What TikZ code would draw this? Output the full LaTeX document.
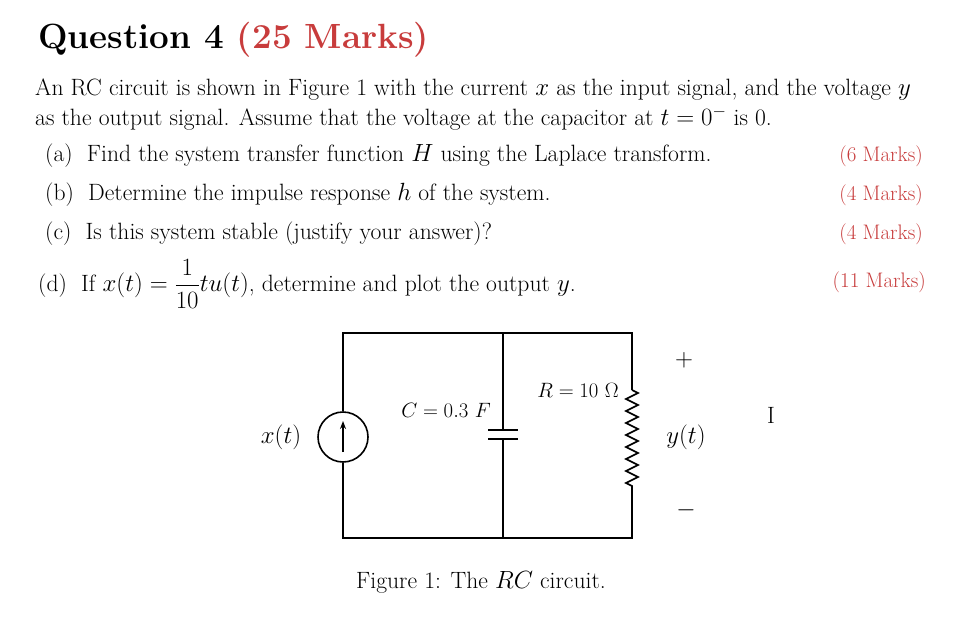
\documentclass[tikz,border=0pt]{standalone}
\usepackage{amsmath}
\usetikzlibrary{decorations.pathmorphing,arrows.meta}
\definecolor{mred}{RGB}{200,60,60}
\tikzset{
  body/.style={anchor=west,inner sep=0pt,font=\fontsize{23.6}{28}\selectfont},
  marks/.style={anchor=east,inner sep=0pt,text=mred,font=\fontsize{21}{24}\selectfont},
  wire/.style={line width=1.6pt},
  lab/.style={inner sep=0pt,font=\fontsize{23.6}{28}\selectfont},
  slab/.style={inner sep=0pt,font=\fontsize{21}{24}\selectfont}
}
\begin{document}
\begin{tikzpicture}[x=1pt,y=-1pt]
\useasboundingbox[fill=white] (0,0) rectangle (963,631);
\node[anchor=west,inner sep=0pt,font=\fontsize{35}{40}\selectfont\bfseries] (q) at (38,40) {Question 4 \textcolor{mred}{(25 Marks)}};
\node[body] (p1) at (35,90) {An RC circuit is shown in Figure 1 with the current $x$ as the input signal, and the voltage $y$};
\node[body] (p2) at (35,118) {as the output signal. Assume that the voltage at the capacitor at $t=0^{-}$ is 0.};
\node[body] (a) at (45,156) {(a)\ \ Find the system transfer function $H$ using the Laplace transform.};
\node[marks] (ma) at (923,156) {(6 Marks)};
\node[body] (b) at (45,195) {(b)\ \ Determine the impulse response $h$ of the system.};
\node[marks] (mb) at (923,195) {(4 Marks)};
\node[body] (c) at (45,234) {(c)\ \ Is this system stable (justify your answer)?};
\node[marks] (mc) at (923,234) {(4 Marks)};
\node[body] (d) at (38,284) {(d)\ \ If $x(t)=\dfrac{1}{10}tu(t)$, determine and plot the output $y$.};
\node[marks] (md) at (926,282) {(11 Marks)};
% circuit
\coordinate (tl) at (343,333); \coordinate (tm) at (503,333); \coordinate (tr) at (632,333);
\coordinate (bl) at (343,538); \coordinate (bm) at (503,538); \coordinate (br) at (632,538);
\node[draw,circle,line width=1.6pt,minimum size=50pt,inner sep=0pt] (src) at (343,437) {};
\draw[line width=1.4pt,-{Stealth[length=8pt]}] (343,452) -- (343,421);
\draw[wire] (src.north) -- (tl) -- (tr) -- (632,390);
\draw[wire] (src.south) -- (bl) -- (br) -- (632,490);
\draw[wire,decorate,decoration={zigzag,segment length=12pt,amplitude=6pt}] (632,390) -- (632,490);
\draw[wire] (tm) -- (503,430); \draw[wire] (bm) -- (503,439);
\draw[wire] (488,430) -- (518,430); \draw[wire] (488,439) -- (518,439);
\node[lab] (xl) at (281,437) {$x(t)$};
\node[slab] (cl) at (446,410) {$C=0.3\ F$};
\node[slab] (rl) at (578,390) {$R=10\ \Omega$};
\node[lab] (pl) at (684,360) {$+$};
\node[lab] (yl) at (686,437) {$y(t)$};
\node[lab] (ml) at (686,510) {$-$};
\node[lab] (il) at (771,415) {I};
\node[lab] (cap) at (481,582) {Figure 1: The $RC$ circuit.};
\end{tikzpicture}
\end{document}
